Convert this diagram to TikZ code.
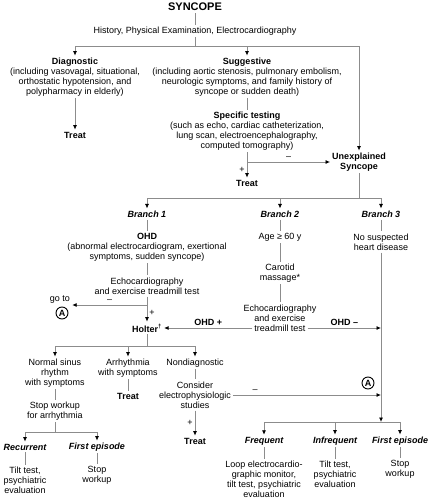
\documentclass[tikz,border=0pt]{standalone}
\usepackage{fontspec}
\setmainfont{Liberation Sans}
\usepackage{xcolor}
\usetikzlibrary{arrows.meta, positioning}
\newcommand{\fs}{\fontsize{9}{10}\selectfont}

\begin{document}
\begin{tikzpicture}[
    x=1pt, y=-1pt,
    font=\fs,
    every node/.style={align=center, inner sep=2pt},
    hd/.style={font=\fs\bfseries},
    br/.style={font=\fs\bfseries\itshape},
    circA/.style={circle, draw=black, line width=0.9pt, minimum size=12pt, inner sep=0pt, font=\fs\bfseries},
    ln/.style={draw=black!45, line width=0.8pt},
    arr/.style={ln, ->},
    >={Latex[length=4.5pt, width=4pt, color=black]}
]
\useasboundingbox (0,0) rectangle (433,500);

\node[font=\fontsize{11}{13}\selectfont\bfseries] (syncope) at (195,7) {SYNCOPE};
\node (hist) at (195,31) {History, Physical Examination, Electrocardiography};
\coordinate (s1) at (195,46);

\node (diag) at (75,77) {\textbf{Diagnostic}\\(including vasovagal, situational,\\orthostatic hypotension, and\\polypharmacy in elderly)};
\node[hd] (treat1) at (75,135) {Treat};
\node (sugg) at (247,77) {\textbf{Suggestive}\\(including aortic stenosis, pulmonary embolism,\\neurologic symptoms, and family history of\\syncope or sudden death)};
\node (spec) at (247,131) {\textbf{Specific testing}\\(such as echo, cardiac catheterization,\\lung scan, electroencephalography,\\computed tomography)};
\coordinate (j1) at (247,162);
\node[hd] (treat2) at (247,183) {Treat};
\node[hd] (unexp) at (359,162) {Unexplained\\Syncope};
\coordinate (s2) at (359,198);

\node[br] (b1) at (147,214) {Branch 1};
\node[br] (b2) at (280,214) {Branch 2};
\node[br] (b3) at (381,214) {Branch 3};

\node (ohd) at (147,247) {\textbf{OHD}\\(abnormal electrocardiogram, exertional\\symptoms, sudden syncope)};
\node (echo1) at (147,286) {Echocardiography\\and exercise treadmill test};
\coordinate (j2) at (147,305);
\node (goto) at (60,300) {go to};
\node[circA] (gotoA) at (62,313) {A};
\node[hd] (holter) at (147,328) {Holter\textsuperscript{†}};

\node (age) at (280,237) {Age ≥ 60 y};
\node (carotid) at (280,273) {Carotid\\massage*};
\node (echo2) at (280,313) {Echocardiography\\and exercise};
\node (tread) at (280,328) {treadmill test};

\node (nohd) at (381,242) {No suspected\\heart disease};
\coordinate (m1) at (381,328);
\coordinate (m2) at (381,395);
\node[circA] (cA) at (368,383) {A};
\coordinate (s3) at (381,422);

\coordinate (s4) at (147,346);
\node (nsr) at (55,373) {Normal sinus\\rhythm\\with symptoms};
\node (arrh) at (128,368) {Arrhythmia\\with symptoms};
\node (nondiag) at (195,363) {Nondiagnostic};
\node[hd] (treat3) at (128,396) {Treat};
\node (consider) at (195,395) {Consider\\electrophysiologic\\studies};
\node[hd] (treat4) at (195,441) {Treat};

\node (stopw) at (55,411) {Stop workup\\for arrhythmia};
\coordinate (s5) at (55,432);
\node[br] (rec) at (25,447) {Recurrent};
\node[br] (first1) at (97,447) {First episode};
\node (tilt1) at (25,480) {Tilt test,\\psychiatric\\evaluation};
\node (stop1) at (97,475) {Stop\\workup};

\node[br] (freq) at (264,441) {Frequent};
\node[br] (infreq) at (335,441) {Infrequent};
\node[br] (first2) at (400,441) {First episode};
\node (loop) at (264,479) {Loop electrocardio-\\graphic monitor,\\tilt test, psychiatric\\evaluation};
\node (tilt2) at (335,474) {Tilt test,\\psychiatric\\evaluation};
\node (stop2) at (400,469) {Stop\\workup};

\draw[ln] (syncope) -- (hist);
\draw[ln] (hist) -- (s1);
\draw[arr] (s1) -| (diag);
\draw[arr] (s1) -| (sugg);
\draw[arr] (s1) -| (unexp);
\draw[arr] (diag) -- (treat1);
\draw[ln] (sugg) -- (spec);
\draw[ln] (spec) -- (j1);
\draw[arr] (j1) -- node[left] {+} (treat2);
\draw[arr] (j1) -- node[above] {–} (unexp);

\draw[ln] (unexp) -- (s2);
\draw[arr] (s2) -| (b1);
\draw[arr] (s2) -| (b2);
\draw[arr] (s2) -| (b3);

\draw[ln] (b1) -- (ohd);
\draw[ln] (ohd) -- (echo1);
\draw[ln] (echo1) -- (j2);
\draw[arr] (j2) -- node[right] {+} (holter);
\draw[arr] (j2) -- node[above] {–} (j2 -| goto.east);

\draw[ln] (b2) -- (age);
\draw[ln] (age) -- (carotid);
\draw[ln] (carotid) -- (echo2);
\draw[arr] (tread) -- node[above, hd] {OHD +} (holter);
\draw[arr] (tread) -- node[above, hd] {OHD –} (m1);

\draw[ln] (b3) -- (nohd);
\draw[arr] (nohd) -- (s3);
\draw[arr] (s3) -| (freq);
\draw[arr] (s3) -| (infreq);
\draw[arr] (s3) -| (first2);

\draw[ln] (holter) -- (s4);
\draw[arr] (s4) -| (nsr);
\draw[arr] (s4) -| (arrh);
\draw[arr] (s4) -| (nondiag);
\draw[ln] (arrh) -- (treat3);
\draw[ln] (nondiag) -- (consider);
\draw[arr] (consider) -- node[left] {+} (treat4);
\draw[arr] (consider) -- node[above, pos=0.15] {–} (m2);

\draw[ln] (nsr) -- (stopw);
\draw[ln] (stopw) -- (s5);
\draw[arr] (s5) -| (rec);
\draw[arr] (s5) -| (first1);
\draw[ln] (rec) -- (tilt1);
\draw[ln] (first1) -- (stop1);

\draw[ln] (freq) -- (loop);
\draw[ln] (infreq) -- (tilt2);
\draw[ln] (first2) -- (stop2);

\end{tikzpicture}
\end{document}
